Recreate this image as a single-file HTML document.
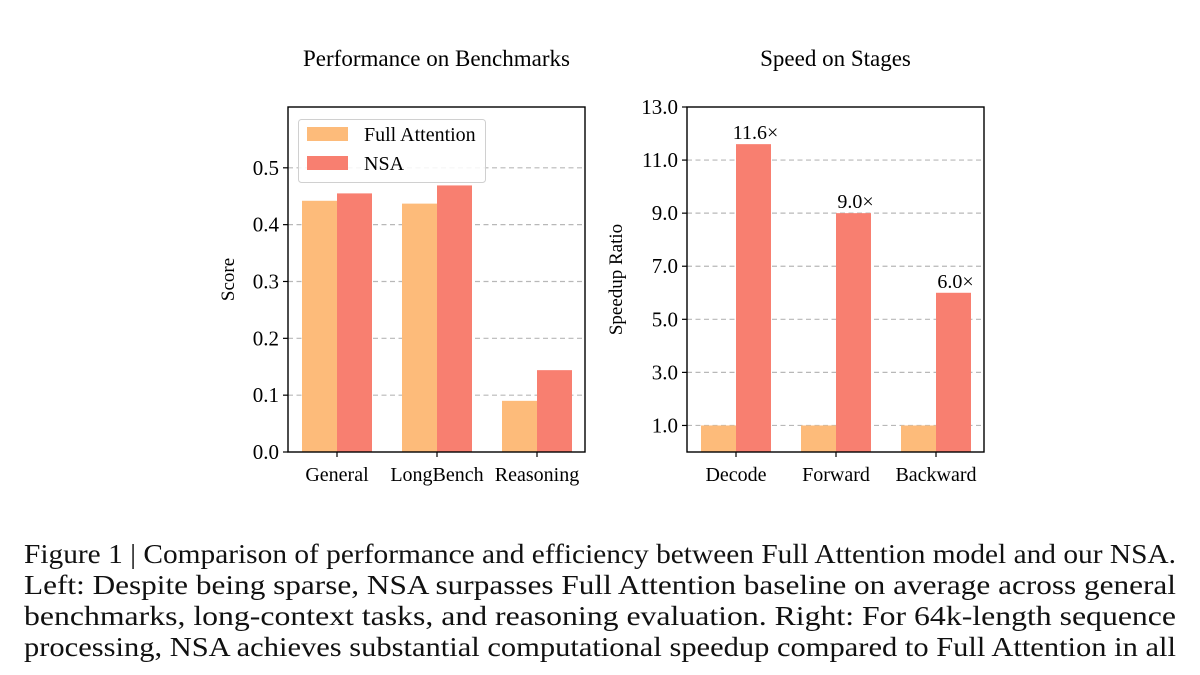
<!DOCTYPE html>
<html><head><meta charset="utf-8">
<style>
html,body{margin:0;padding:0;background:#fff;}
svg{display:block;font-family:"Liberation Serif","DejaVu Serif",serif;}
</style></head>
<body>
<svg id="fig" width="1200" height="675" viewBox="0 0 1200 675" xmlns="http://www.w3.org/2000/svg">
  <g id="left"></g>
  <g id="right"></g>
  <g id="caption" font-size="27" fill="#111">
    <text x="24" y="563" textLength="1152" lengthAdjust="spacingAndGlyphs">Figure 1 | Comparison of performance and efficiency between Full Attention model and our NSA.</text>
    <text x="24" y="594" textLength="1152" lengthAdjust="spacingAndGlyphs">Left: Despite being sparse, NSA surpasses Full Attention baseline on average across general</text>
    <text x="24" y="625" textLength="1152" lengthAdjust="spacingAndGlyphs">benchmarks, long-context tasks, and reasoning evaluation.  Right: For 64k-length sequence</text>
    <text x="24" y="656" textLength="1152" lengthAdjust="spacingAndGlyphs">processing, NSA achieves substantial computational speedup compared to Full Attention in all</text>
  </g>
</svg>
<script>
const perfCategories = ["General", "LongBench", "Reasoning"];
const perfFull = [0.442, 0.437, 0.090];
const perfNSA = [0.455, 0.469, 0.144];
const perfTicks = [0.0, 0.1, 0.2, 0.3, 0.4, 0.5];
const perfTickLabels = ["0.0", "0.1", "0.2", "0.3", "0.4", "0.5"];

const speedCategories = ["Decode", "Forward", "Backward"];
const speedFull = [1.0, 1.0, 1.0];
const speedNSA = [11.6, 9.0, 6.0];
const speedTicks = [1, 3, 5, 7, 9, 11, 13];
const speedTickLabels = ["1.0", "3.0", "5.0", "7.0", "9.0", "11.0", "13.0"];
const speedValueLabels = ["11.6×", "9.0×", "6.0×"];

const NS = "http://www.w3.org/2000/svg";
const C_FULL = "#fdbb7a", C_NSA = "#f87f70";
function mk(parent, tag, attrs, text) {
  const e = document.createElementNS(NS, tag);
  for (const k in attrs) e.setAttribute(k, attrs[k]);
  if (text !== undefined) e.textContent = text;
  parent.appendChild(e);
  return e;
}

function drawChart(g, o) {
  const L = o.left, R = o.right, T = 107, B = 452;
  const y = v => B - (v - o.ymin) / (o.ymax - o.ymin) * (B - T);
  const x = i => L + (i - o.xmin) / (o.xmax - o.xmin) * (R - L);
  const bw = 0.35;
  o.ticks.forEach((t, i) => {
    if (o.grid[i]) {
      const gl = mk(g, "line", {x1: L, x2: R, y1: y(t), y2: y(t), stroke: "#b8b8b8", "stroke-width": 1.2, "stroke-dasharray": "5,3.5"});
      
      
    }
  });
  o.cats.forEach((c, i) => {
    const b1 = mk(g, "rect", {x: x(i - bw), y: y(o.full[i]), width: x(i) - x(i - bw), height: y(o.ymin) - y(o.full[i]), fill: C_FULL});
    
    
    const b2 = mk(g, "rect", {x: x(i), y: y(o.nsa[i]), width: x(i + bw) - x(i), height: y(o.ymin) - y(o.nsa[i]), fill: C_NSA});
    
    
    if (o.valueLabels) {
      const vl = mk(g, "text", {x: x(i + bw / 2) + 2, y: y(o.nsa[i]) - 5, "text-anchor": "middle", "font-size": 20}, o.valueLabels[i]);
      
      
    }
    const tk = mk(g, "line", {x1: x(i), x2: x(i), y1: B, y2: B + 5, stroke: "#000", "stroke-width": 1.2});
    
    
    const tl = mk(g, "text", {x: x(i), y: B + 29, "text-anchor": "middle", "font-size": 20}, c);
    
    
  });
  o.ticks.forEach((t, i) => {
    const tk = mk(g, "line", {x1: L - 5, x2: L, y1: y(t), y2: y(t), stroke: "#000", "stroke-width": 1.2});
    
    
    const tl = mk(g, "text", {x: L - 9, y: y(t) + 7, "text-anchor": "end", "font-size": 21}, o.tickLabels[i]);
    
    
  });
  const frame = mk(g, "rect", {x: L, y: T, width: R - L, height: B - T, fill: "none", stroke: "#000", "stroke-width": 1.4});
  
  
  const title = mk(g, "text", {x: (L + R) / 2, y: 66, "text-anchor": "middle", "font-size": 23}, o.title);
  
  
  const yt = mk(g, "text", {x: 0, y: 0, "text-anchor": "middle", "font-size": 19, transform: "translate(" + o.ylabX + "," + (T + B) / 2 + ") rotate(-90)"}, o.ylabel);
  
  
}

drawChart(document.getElementById("left"), {
  left: 288, right: 585, xmin: -0.49, xmax: 2.48, ymin: 0, ymax: 0.607,
  cats: perfCategories, full: perfFull, nsa: perfNSA,
  ticks: perfTicks, tickLabels: perfTickLabels, grid: [false, true, true, true, true, true],
  title: "Performance on Benchmarks", ylabel: "Score", ylabX: 234
});
drawChart(document.getElementById("right"), {
  left: 687, right: 984, xmin: -0.49, xmax: 2.48, ymin: 0, ymax: 13,
  cats: speedCategories, full: speedFull, nsa: speedNSA,
  ticks: speedTicks, tickLabels: speedTickLabels, grid: [true, true, true, true, true, true, false],
  valueLabels: speedValueLabels,
  title: "Speed on Stages", ylabel: "Speedup Ratio", ylabX: 622
});

const lg = document.getElementById("left");
const leg = mk(lg, "g", {});


mk(leg, "rect", {x: 298.5, y: 119.5, width: 187, height: 63, rx: 3, fill: "#fff", "fill-opacity": 0.85, stroke: "#d0d0d0", "stroke-width": 1});
const e1 = mk(leg, "g", {});


mk(e1, "rect", {x: 307, y: 127, width: 41, height: 14, fill: C_FULL});
mk(e1, "text", {x: 364, y: 141, "font-size": 20}, "Full Attention");
const e2 = mk(leg, "g", {});


mk(e2, "rect", {x: 307, y: 156, width: 41, height: 14, fill: C_NSA});
mk(e2, "text", {x: 364, y: 170, "font-size": 20}, "NSA");
</script>
</body></html>
